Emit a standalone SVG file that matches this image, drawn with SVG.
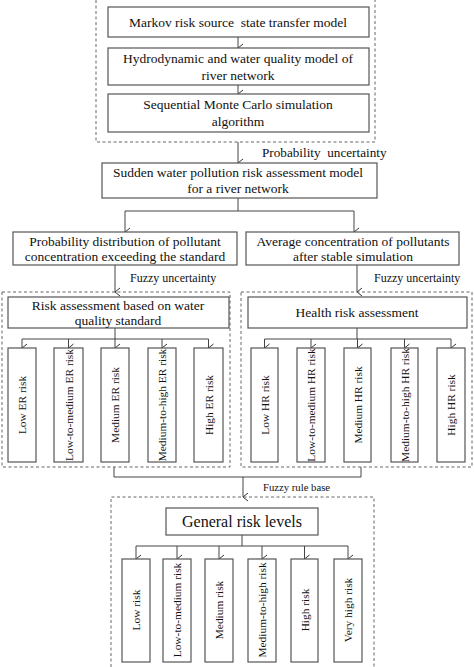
<svg xmlns="http://www.w3.org/2000/svg" width="474" height="667" viewBox="0 0 474 667">
<defs>
<marker id="arr" markerWidth="10" markerHeight="10" refX="5" refY="9" orient="auto" markerUnits="userSpaceOnUse" viewBox="0 0 10 10">
<polyline points="1,4 5,9 9,4" fill="none" stroke="#333" stroke-width="1"/>
</marker>
<style>
.b{fill:#fff;stroke:#555;stroke-width:1.2}
.d{fill:none;stroke:#666;stroke-width:1;stroke-dasharray:3,2.5}
.t{font-family:"Liberation Serif","Times New Roman",serif;font-size:13.5px;fill:#111;text-anchor:middle}
.v{font-family:"Liberation Serif","Times New Roman",serif;font-size:11.4px;fill:#111;text-anchor:middle;dominant-baseline:central}
.l{font-family:"Liberation Serif","Times New Roman",serif;font-size:12px;fill:#111}
.c{fill:none;stroke:#444;stroke-width:1}
.ca{fill:none;stroke:#444;stroke-width:1;marker-end:url(#arr)}
</style>
</defs>

<g id="connectors">
<line class="ca" x1="238" y1="37" x2="238" y2="48"/>
<line class="ca" x1="238" y1="85" x2="238" y2="94"/>
<line class="ca" x1="238" y1="142" x2="238" y2="163"/>
<polyline class="c" points="238,198 238,211"/>
<polyline class="c" points="125,211 354,211"/>
<line class="ca" x1="125" y1="211" x2="125" y2="232"/>
<line class="ca" x1="354" y1="211" x2="354" y2="232"/>
<line class="ca" x1="115" y1="265" x2="115" y2="292"/>
<line class="ca" x1="357" y1="265" x2="357" y2="292"/>
<line class="c" x1="115" y1="328" x2="115" y2="339"/>
<line class="c" x1="22" y1="339" x2="208.5" y2="339"/>
<line class="ca" x1="22" y1="339" x2="22" y2="348"/>
<line class="ca" x1="68.5" y1="339" x2="68.5" y2="348"/>
<line class="ca" x1="115" y1="339" x2="115" y2="348"/>
<line class="ca" x1="162" y1="339" x2="162" y2="348"/>
<line class="ca" x1="208.5" y1="339" x2="208.5" y2="348"/>
<line class="c" x1="357" y1="328" x2="357" y2="339"/>
<line class="c" x1="264.5" y1="339" x2="451" y2="339"/>
<line class="ca" x1="264.5" y1="339" x2="264.5" y2="348"/>
<line class="ca" x1="311" y1="339" x2="311" y2="348"/>
<line class="ca" x1="357.5" y1="339" x2="357.5" y2="348"/>
<line class="ca" x1="404.5" y1="339" x2="404.5" y2="348"/>
<line class="ca" x1="451" y1="339" x2="451" y2="348"/>
<polyline class="c" points="114,467 114,477 361,477 361,467"/>
<line class="ca" x1="243" y1="477" x2="243" y2="497"/>
<line class="c" x1="242" y1="535" x2="242" y2="546"/>
<line class="c" x1="136" y1="546" x2="348" y2="546"/>
<line class="ca" x1="136" y1="546" x2="136" y2="559"/>
<line class="ca" x1="177" y1="546" x2="177" y2="559"/>
<line class="ca" x1="219" y1="546" x2="219" y2="559"/>
<line class="ca" x1="262" y1="546" x2="262" y2="559"/>
<line class="ca" x1="304.5" y1="546" x2="304.5" y2="559"/>
<line class="ca" x1="348" y1="546" x2="348" y2="559"/>
<text class="l" x="262" y="157" style="font-size:13.2px">Probability&#160; uncertainty</text>
<text class="l" x="130" y="282">Fuzzy uncertainty</text>
<text class="l" x="374" y="282">Fuzzy uncertainty</text>
<text class="l" x="263" y="491" style="font-size:10.7px">Fuzzy rule base</text>
</g>

<g id="group-top"><polyline class="d" points="96,0 96,142 375,142 375,0"/></g>
<g id="group-er"><rect class="d" x="2" y="292" width="228" height="175"/></g>
<g id="group-hr"><rect class="d" x="241" y="292" width="231" height="175"/></g>
<g id="group-general"><polyline class="d" points="111,667 111,497 374,497 374,667"/></g>

<g id="markov"><rect class="b" x="108" y="7" width="261" height="30"/><text class="t" x="238" y="27">Markov risk source&#160; state transfer model</text></g>
<g id="hydro"><rect class="b" x="108" y="48" width="261" height="37"/><text class="t" x="238" y="63">Hydrodynamic and water quality model of</text><text class="t" x="238" y="80">river network</text></g>
<g id="monte"><rect class="b" x="108" y="94" width="261" height="38"/><text class="t" x="238" y="109">Sequential Monte Carlo simulation</text><text class="t" x="238" y="126">algorithm</text></g>
<g id="sudden"><rect class="b" x="102" y="163" width="275" height="35"/><text class="t" x="238" y="177">Sudden water pollution risk assessment model</text><text class="t" x="238" y="193">for a river network</text></g>
<g id="probdist"><rect class="b" x="13" y="232" width="224" height="33"/><text class="t" x="125" y="246">Probability distribution of pollutant</text><text class="t" x="125" y="261">concentration exceeding the standard</text></g>
<g id="avgconc"><rect class="b" x="246" y="232" width="213" height="33"/><text class="t" x="353" y="246">Average concentration of pollutants</text><text class="t" x="353" y="261">after stable simulation</text></g>
<g id="riskwq"><rect class="b" x="8" y="297" width="221" height="31"/><text class="t" x="118" y="310">Risk assessment based on water</text><text class="t" x="118" y="325">quality standard</text></g>
<g id="health"><rect class="b" x="248" y="297" width="219" height="31"/><text class="t" x="357" y="317">Health risk assessment</text></g>

<g id="er1"><rect class="b" x="8" y="348" width="28" height="114"/><text class="v" transform="translate(22,405) rotate(-90)">Low ER risk</text></g>
<g id="er2"><rect class="b" x="54" y="348" width="29" height="114"/><text class="v" transform="translate(68.5,405) rotate(-90)">Low-to-medium ER risk</text></g>
<g id="er3"><rect class="b" x="101" y="348" width="28" height="114"/><text class="v" transform="translate(115,405) rotate(-90)">Medium ER risk</text></g>
<g id="er4"><rect class="b" x="148" y="348" width="28" height="114"/><text class="v" transform="translate(162,405) rotate(-90)">Medium-to-high ER risk</text></g>
<g id="er5"><rect class="b" x="194" y="348" width="29" height="114"/><text class="v" transform="translate(208.5,405) rotate(-90)">High ER risk</text></g>

<g id="hr1"><rect class="b" x="251" y="348" width="27" height="114"/><text class="v" transform="translate(264.5,405) rotate(-90)">Low HR risk</text></g>
<g id="hr2"><rect class="b" x="297" y="348" width="28" height="114"/><text class="v" transform="translate(311,405) rotate(-90)">Low-to-medium HR risk</text></g>
<g id="hr3"><rect class="b" x="344" y="348" width="27" height="114"/><text class="v" transform="translate(357.5,405) rotate(-90)">Medium HR risk</text></g>
<g id="hr4"><rect class="b" x="391" y="348" width="27" height="114"/><text class="v" transform="translate(404.5,405) rotate(-90)">Medium-to-high HR risk</text></g>
<g id="hr5"><rect class="b" x="437" y="348" width="28" height="114"/><text class="v" transform="translate(451,405) rotate(-90)">High HR risk</text></g>

<g id="general"><rect class="b" x="166" y="508" width="152" height="27"/><text class="t" x="242" y="527" style="font-size:16px">General risk levels</text></g>

<g id="g1"><rect class="b" x="122" y="559" width="28" height="103"/><text class="v" transform="translate(136,610) rotate(-90)">Low risk</text></g>
<g id="g2"><rect class="b" x="163" y="559" width="28" height="103"/><text class="v" transform="translate(177,610) rotate(-90)">Low-to-medium risk</text></g>
<g id="g3"><rect class="b" x="205" y="559" width="28" height="103"/><text class="v" transform="translate(219,610) rotate(-90)">Medium risk</text></g>
<g id="g4"><rect class="b" x="248" y="559" width="28" height="103"/><text class="v" transform="translate(262,610) rotate(-90)">Medium-to-high risk</text></g>
<g id="g5"><rect class="b" x="291" y="559" width="27" height="103"/><text class="v" transform="translate(304.5,610) rotate(-90)">High risk</text></g>
<g id="g6"><rect class="b" x="334" y="559" width="28" height="103"/><text class="v" transform="translate(348,610) rotate(-90)">Very high risk</text></g>
</svg>
